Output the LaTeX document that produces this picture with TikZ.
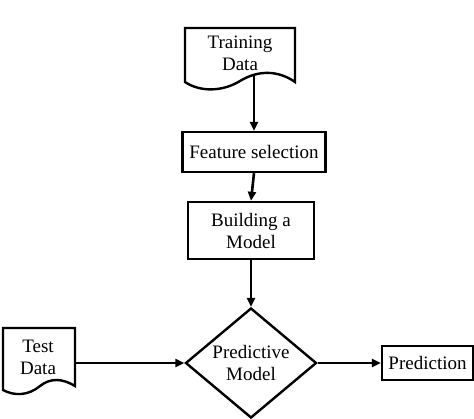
\documentclass[tikz,border=0pt]{standalone}
\usepackage{fontspec}
\setmainfont{Liberation Serif}
\usetikzlibrary{shapes.geometric,arrows.meta}
\begin{document}
\begin{tikzpicture}[x=1pt,y=-1pt,
  every node/.style={font=\fontsize{19}{22}\selectfont, align=center},
  boxstyle/.style={draw, line width=2.4pt, rectangle, inner sep=0pt},
  docline/.style={draw, line width=2.4pt},
  arr/.style={line width=2.6pt, -{Triangle[length=9pt,width=8pt]}},
  txt/.style={inner sep=0pt}]
\useasboundingbox (0,0) rectangle (474,418);
% Training Data document
\draw[docline] (185,28) -- (295,28) -- (295,82)
   .. controls (278,70) and (258,70) .. (240,81)
   .. controls (222,92) and (200,92) .. (185,82) -- cycle;
\node[txt] (train) at (240,53) {Training\\Data};
\coordinate (trainb) at (254,76);
% Feature selection
\node[boxstyle, minimum width=143pt, minimum height=40pt] (fs) at (254,152) {Feature selection};
% Building a Model
\node[boxstyle, minimum width=126pt, minimum height=57pt] (bm) at (251,230.5) {Building a\\Model};
% Predictive Model diamond
\node[draw, line width=2.4pt, diamond, aspect=1.19, inner sep=0pt, minimum width=131pt, minimum height=110pt] (pm) at (251,363) {Predictive\\Model};
% Test Data document
\draw[docline] (3,328) -- (75,328) -- (75,386)
   .. controls (62,378) and (50,378) .. (40,386)
   .. controls (28,396) and (14,396) .. (3,390) -- cycle;
\node[txt] (test) at (38,357) {Test\\Data};
\coordinate (testr) at (75,363);
% Prediction
\node[boxstyle, minimum width=91pt, minimum height=34pt] (pred) at (427.5,363) {Prediction};
% arrows
\draw[arr] (trainb) -- (fs.north);
\draw[arr] (fs.south) -- (bm.north);
\draw[arr] (bm.south) -- (pm.north);
\draw[arr] (testr) -- (pm.west);
\draw[arr] (pm.east) -- (pred.west);
\end{tikzpicture}
\end{document}
